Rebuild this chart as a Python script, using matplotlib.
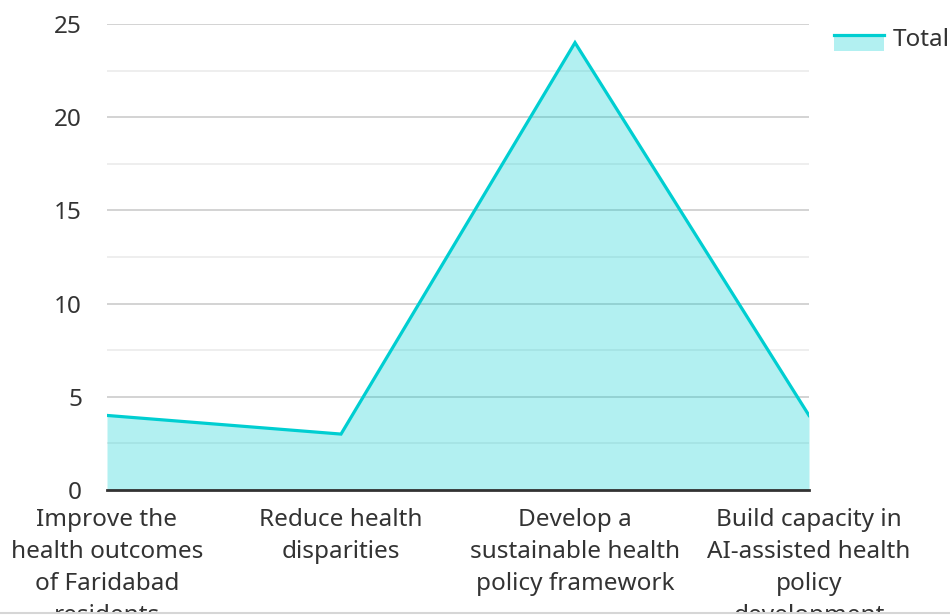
import matplotlib
matplotlib.use("Agg")
import matplotlib.pyplot as plt
from matplotlib.patches import Rectangle
from matplotlib.lines import Line2D
from matplotlib.legend_handler import HandlerBase
from matplotlib.ticker import MultipleLocator

categories = [
    "Improve the\nhealth outcomes\nof Faridabad\nresidents",
    "Reduce health\ndisparities",
    "Develop a\nsustainable health\npolicy framework",
    "Build capacity in\nAI-assisted health\npolicy\ndevelopment",
]
totals = [4, 3, 24, 4]
series_name = "Total"

line_color = "#00CED1"
text_color = "#333333"

plt.rcParams["font.family"] = ["Noto Sans", "DejaVu Sans"]

fig = plt.figure(figsize=(9.5, 6.16), dpi=100)
W, H = 950, 616
ax = fig.add_axes([107 / W, (H - 490) / H, (809 - 107) / W, (490 - 24) / H])

x = list(range(len(categories)))
ax.fill_between(x, totals, 0, color=line_color, alpha=0.3, linewidth=0, zorder=2)
ax.plot(x, totals, color=line_color, linewidth=2.3, zorder=3, solid_joinstyle="miter")

ax.set_xlim(0, len(categories) - 1)
ax.set_ylim(0, 25)
ax.yaxis.set_major_locator(MultipleLocator(5))
ax.yaxis.set_minor_locator(MultipleLocator(2.5))
ax.grid(which="major", axis="y", color="#cccccc", linewidth=1.2, zorder=1)
ax.grid(which="minor", axis="y", color="#ebebeb", linewidth=1.2, zorder=1)
ax.set_axisbelow(True)

fs = 17.5
ax.set_xticks(x)
ax.set_xticklabels(categories, fontsize=fs, color=text_color, linespacing=1.45)
ax.tick_params(axis="x", length=0, pad=13)
ax.tick_params(axis="y", which="both", length=0, pad=18, labelsize=fs, labelcolor=text_color)

for s in ["top", "right", "left"]:
    ax.spines[s].set_visible(False)
ax.spines["bottom"].set_color("#333333")
ax.spines["bottom"].set_linewidth(2)
ax.spines["bottom"].set_zorder(4)


class HandlerAreaLine(HandlerBase):
    def create_artists(self, legend, orig_handle, xdescent, ydescent, width, height, fontsize, trans):
        y0 = -ydescent - height * 0.3
        h = height * 0.95
        rect = Rectangle((-xdescent, y0), width, h,
                         facecolor=line_color, alpha=0.3, edgecolor="none", transform=trans)
        ln = Line2D([-xdescent, -xdescent + width], [y0 + h, y0 + h],
                    color=line_color, linewidth=2.3, transform=trans)
        return [rect, ln]


handle = Rectangle((0, 0), 1, 1)
leg = ax.legend([handle], [series_name], handler_map={Rectangle: HandlerAreaLine()},
                loc="upper left", bbox_to_anchor=(834 / W, (H - 28) / H),
                bbox_transform=fig.transFigure, frameon=False, fontsize=fs,
                handlelength=2.06, handletextpad=0.37, borderaxespad=0, borderpad=0)
for t in leg.get_texts():
    t.set_color(text_color)

# bottom clip band
fig.add_artist(Rectangle((0, 0), 1, 3 / H, transform=fig.transFigure,
                         facecolor="white", edgecolor="none", zorder=10))
fig.add_artist(Line2D([0, 1], [3 / H, 3 / H], transform=fig.transFigure,
                      color="#d6d6d6", linewidth=1.5, zorder=11))

fig.savefig("out.png", dpi=100)
